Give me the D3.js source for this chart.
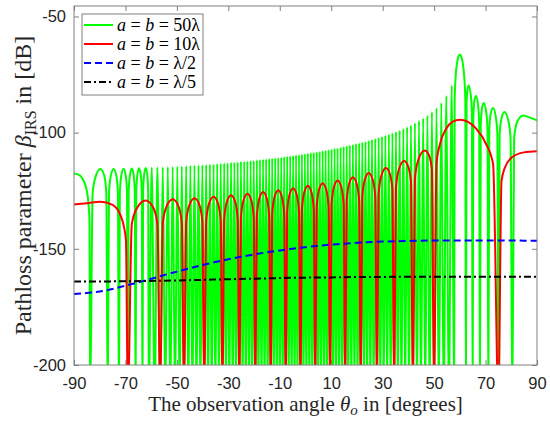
<!DOCTYPE html>
<html lang="en">
<head>
<meta charset="utf-8">
<script src="https://d3js.org/d3.v7.min.js"></script>
<style>
  body { margin: 0; background: #fff; }
</style>
</head>
<body>
<svg id="chart" width="550" height="422"></svg>

<script>
// ---------- values ----------
const xTicks = [-90, -70, -50, -30, -10, 10, 30, 50, 70, 90];
const yTicks = [-200, -150, -100, -50];
const deepNull = -215;   // nulls fall below the -200 floor and get clipped

// a = b = 50 lambda : null angles, lobe peaks, extra samples on the wide lobes
const nulls50 = [-83.72, -76.90, -72.55, -69.07, -66.07, -63.38, -60.93, -58.65, -56.51, -54.49,
  -52.56, -50.72, -48.94, -47.23, -45.56, -43.95, -42.38, -40.84, -39.35, -37.88,
  -36.44, -35.03, -33.64, -32.28, -30.93, -29.60, -28.29, -27.00, -25.72, -24.46,
  -23.20, -21.96, -20.73, -19.51, -18.30, -17.10, -15.90, -14.71, -13.53, -12.36,
  -11.19, -10.02, -8.86, -7.70, -6.55, -5.39, -4.24, -3.10, -1.95, -0.80,
  0.34, 1.49, 2.64, 3.78, 4.93, 6.08, 7.24, 8.40, 9.56, 10.72,
  11.89, 13.06, 14.24, 15.42, 16.62, 17.82, 19.03, 20.24, 21.47, 22.71,
  23.95, 25.21, 26.49, 27.78, 29.08, 30.40, 31.74, 33.10, 34.47, 35.87,
  37.30, 38.76, 40.24, 41.76, 43.32, 44.91, 46.55, 48.25, 50.00, 51.82,
  53.71, 55.69, 57.79, 62.36, 64.97, 67.81, 71.08, 75.00, 80.41];

const peaks50 = [[-79.74, -115.7], [-74.58, -115.6], [-70.73, -115.5], [-67.53, -115.4], [-64.69, -115.3],
  [-62.12, -115.2], [-59.79, -115.1], [-57.58, -115.0], [-55.50, -114.9], [-53.53, -114.8],
  [-51.64, -114.7], [-49.83, -114.6], [-48.09, -114.5], [-46.40, -114.4], [-44.76, -114.2],
  [-43.17, -114.1], [-41.61, -114.0], [-40.10, -113.9], [-38.62, -113.8], [-37.16, -113.7],
  [-35.74, -113.6], [-34.34, -113.4], [-32.96, -113.3], [-31.61, -113.2], [-30.27, -113.1],
  [-28.95, -112.9], [-27.65, -112.8], [-26.36, -112.7], [-25.09, -112.5], [-23.83, -112.4],
  [-22.58, -112.3], [-21.35, -112.1], [-20.12, -112.0], [-18.91, -111.8], [-17.70, -111.7],
  [-16.50, -111.5], [-15.31, -111.4], [-14.12, -111.2], [-12.95, -111.1], [-11.78, -110.9],
  [-10.61, -110.8], [-9.44, -110.6], [-8.28, -110.4], [-7.13, -110.2], [-5.97, -110.1],
  [-4.82, -109.9], [-3.67, -109.7], [-2.53, -109.5], [-1.38, -109.3], [-0.23, -109.1],
  [0.92, -108.9], [2.07, -108.7], [3.21, -108.5], [4.36, -108.3], [5.51, -108.1],
  [6.66, -107.8], [7.82, -107.6], [8.98, -107.4], [10.14, -107.1], [11.31, -106.8],
  [12.48, -106.6], [13.65, -106.3], [14.83, -106.0], [16.02, -105.7], [17.22, -105.4],
  [18.43, -105.1], [19.64, -104.8], [20.86, -104.5], [22.09, -104.1], [23.33, -103.8],
  [24.58, -103.4], [25.85, -103.0], [27.14, -102.6], [28.43, -102.1], [29.74, -101.7],
  [31.07, -101.2], [32.42, -100.7], [33.79, -100.2], [35.17, -99.6], [36.59, -99.0],
  [38.03, -98.3], [39.50, -97.6], [41.00, -96.8], [42.54, -95.9], [44.12, -94.9],
  [45.73, -93.8], [47.40, -92.6], [49.15, -91.1], [50.93, -89.4], [52.80, -87.2],
  [54.77, -84.2], [56.87, -79.7], [60.00, -66.4], [63.46, -79.7], [66.24, -84.2],
  [69.29, -87.2], [72.88, -89.4], [77.32, -91.1], [84.62, -92.6]];

const flanks50 = [[-90, -117.6], [-88.5, -118.0], [-87, -119.3], [-85, -125.1], [-84.3, -131.8], [-84.0, -137.5],
  [-82.75, -125.9], [-81.53, -118.7], [-78.19, -118.7], [-77.45, -125.9],
  [-76.40, -125.8], [-75.70, -118.6], [-73.53, -118.6], [-72.93, -125.8],
  [-72.17, -125.7], [-71.62, -118.5], [-69.88, -118.5], [-69.40, -125.7],
  [-68.75, -125.6], [-68.27, -118.4], [-66.80, -118.4], [-66.35, -125.6],
  [-65.78, -125.5], [-65.37, -118.3], [-64.03, -118.3], [-63.64, -125.5],
  [-63.13, -125.4], [-62.75, -118.2], [-61.51, -118.2], [-61.17, -125.4],
  [57.99, -85.6], [58.32, -76.9], [58.87, -70.3], [59.43, -67.3],
  [60.57, -67.3], [61.16, -70.3], [61.77, -76.9], [62.13, -85.6],
  [62.64, -87.4], [63.00, -81.3], [64.28, -84.2], [64.69, -92.1],
  [65.24, -93.0], [65.65, -86.4], [67.08, -88.1], [67.52, -95.8],
  [68.14, -96.4], [68.62, -89.6], [70.21, -90.8], [70.75, -98.4],
  [71.45, -98.8], [72.00, -91.9], [73.93, -92.9], [74.58, -100.3],
  [75.47, -100.7], [76.20, -93.8], [78.81, -94.6], [79.70, -102.0],
  [81.12, -102.3], [82.30, -95.3], [86.40, -93.2], [90, -94.7]];

// a = b = 10 lambda
const nulls10 = [-69.07, -56.51, -47.23, -39.35, -32.28, -25.72, -19.51, -13.53, -7.70, -1.95,
  3.78, 9.56, 15.42, 21.47, 27.78, 34.47, 41.76, 50.00, 75.00];

const peaks10 = [[-79.8, -129.7], [-62.12, -129.2], [-51.63, -128.7], [-43.16, -128.2], [-35.73, -127.6],
  [-28.95, -126.9], [-22.58, -126.3], [-16.50, -125.6], [-10.60, -124.8], [-4.82, -123.9],
  [0.92, -122.9], [6.66, -121.8], [12.47, -120.6], [18.42, -119.2], [24.58, -117.4],
  [31.27, -115.2], [38.32, -112.2], [46.31, -107.7], [60.00, -94.4]];

const flanks10 = [[-90, -130.9], [-85, -130.4], [-75, -131.1], [-72, -135.4], [-70.5, -141.0], [-69.8, -146.5],
  [-67.53, -139.4], [-65.37, -132.2], [-59.21, -132.2], [-57.56, -139.4],
  [-55.49, -138.9], [-54.00, -131.7], [-49.38, -131.7], [-48.07, -138.9],
  [-46.38, -138.4], [-45.15, -131.2], [-41.22, -131.2], [-40.09, -138.4],
  [-38.61, -137.8], [-37.52, -130.6], [-33.99, -130.6], [-32.96, -137.8],
  [-31.60, -137.1], [-30.60, -129.9], [-27.32, -129.9], [-26.36, -137.1],
  [-25.09, -136.5], [-24.14, -129.3], [-21.04, -129.3], [-20.12, -136.5],
  [-18.91, -135.8], [-18.00, -128.6], [-15.01, -128.6], [-14.12, -135.8],
  [-12.94, -135.0], [-12.06, -127.8], [-9.15, -127.8], [-8.28, -135.0],
  [-7.12, -134.1], [-6.26, -126.9], [-3.38, -126.9], [-2.52, -134.1],
  [-1.38, -133.1], [-0.52, -125.9], [2.35, -125.9], [3.21, -133.1],
  [4.36, -132.0], [5.22, -124.8], [8.11, -124.8], [8.98, -132.0],
  [10.14, -130.8], [11.01, -123.6], [13.95, -123.6], [14.83, -130.8],
  [16.02, -129.4], [16.92, -122.2], [19.94, -122.2], [20.86, -129.4],
  [22.09, -127.6], [23.02, -120.4], [26.17, -120.4], [27.13, -127.6],
  [28.42, -126.6], [29.41, -118.8], [32.75, -117.6], [33.78, -124.4],
  [35.17, -123.8], [36.23, -116.1], [39.87, -114.4], [41.00, -121.0],
  [42.53, -120.1], [43.71, -112.2], [47.82, -109.3], [49.11, -115.4],
  [50.90, -113.6], [52.28, -104.9], [54.69, -98.3], [57.23, -95.3],
  [63.00, -95.3], [66.35, -98.3], [70.21, -104.9], [72.94, -113.6],
  [76.2, -120.9], [77.4, -115.4], [80.4, -110.5], [84.9, -108.5], [90, -108.0]];

// small surfaces, sampled every 10 degrees
const smallAngles = [-90, -80, -70, -60, -50, -40, -30, -20, -10, 0, 10, 20, 30, 40, 50, 60, 70, 80, 90];
const betaHalf = [-169.4, -168.4, -165.9, -162.9, -159.8, -157.0, -154.5, -152.4, -150.7, -149.3,
  -148.2, -147.4, -146.9, -146.6, -146.4, -146.4, -146.4, -146.45, -146.5];
const betaFifth = [-164.1, -164.05, -163.95, -163.8, -163.6, -163.35, -163.1, -162.85, -162.6, -162.4,
  -162.3, -162.15, -162.1, -162.0, -162.0, -162.0, -162.0, -162.0, -162.0];

const legendSizes = ["50λ", "10λ", "λ/2", "λ/5"];
const seriesColors = ["#00ff00", "#ff0000", "#0000ff", "#000000"];
const seriesDash = [null, null, "7,4", "7,3,2,3"];

// ---------- chart ----------
const svg = d3.select("#chart");
const x = d3.scaleLinear().domain([-90, 90]).range([74, 537]);
const y = d3.scaleLinear().domain([-200, -45.5]).range([365, 6]);
const axisColor = "#808080";
const tickFont = "16.5px 'Liberation Sans', Arial, sans-serif";
const mathFont = "'Liberation Serif', 'Times New Roman', serif";

function lobes(nulls, peaks, flanks) {
  return nulls.map(a => [a, deepNull]).concat(peaks, flanks).sort((p, q) => p[0] - q[0]);
}

const series = [
  lobes(nulls50, peaks50, flanks50),
  lobes(nulls10, peaks10, flanks10),
  smallAngles.map((a, i) => [a, betaHalf[i]]),
  smallAngles.map((a, i) => [a, betaFifth[i]])
];

svg.append("defs").append("clipPath").attr("id", "plotClip")
  .append("rect")
  .attr("x", x(-90)).attr("y", y.range()[1])
  .attr("width", x(90) - x(-90)).attr("height", y(-200) - y.range()[1]);

function styleAxis(g) {
  g.select(".domain").remove();
  g.selectAll(".tick line").attr("stroke", axisColor);
  g.selectAll(".tick text").attr("fill", "#262626").style("font", tickFont);
}

svg.append("g").attr("transform", `translate(0,${y(-200)})`)
  .call(d3.axisBottom(x).tickValues(xTicks).tickSize(-5).tickPadding(12).tickFormat(d => String(d)))
  .call(styleAxis);
svg.append("g").attr("transform", `translate(0,${y.range()[1]})`)
  .call(d3.axisTop(x).tickValues(xTicks).tickSize(-5).tickFormat(""))
  .call(styleAxis);
svg.append("g").attr("transform", `translate(${x(-90)},0)`)
  .call(d3.axisLeft(y).tickValues(yTicks).tickSize(-5).tickPadding(8).tickFormat(d => String(d)))
  .call(styleAxis);
svg.append("g").attr("transform", `translate(${x(90)},0)`)
  .call(d3.axisRight(y).tickValues(yTicks).tickSize(-5).tickFormat(""))
  .call(styleAxis);

const line = d3.line()
  .x(d => x(d[0]))
  .y(d => y(d[1]))
  .curve(d3.curveMonotoneX);

svg.append("g").attr("clip-path", "url(#plotClip)")
  .selectAll("path")
  .data(series)
  .join("path")
  .attr("d", line)
  .attr("fill", "none")
  .attr("stroke", (d, i) => seriesColors[i])
  .attr("stroke-width", 2)
  .attr("stroke-dasharray", (d, i) => seriesDash[i]);

// axes box
svg.append("rect")
  .attr("x", x(-90)).attr("y", y.range()[1])
  .attr("width", x(90) - x(-90)).attr("height", y(-200) - y.range()[1])
  .attr("fill", "none").attr("stroke", axisColor);

// legend
const legend = svg.append("g").attr("transform", "translate(82,14)");
legend.append("rect")
  .attr("width", 121).attr("height", 81)
  .attr("fill", "#fff").attr("stroke", axisColor);

const rows = legend.selectAll("g.row")
  .data(legendSizes)
  .join("g")
  .attr("class", "row")
  .attr("transform", (d, i) => `translate(0,${11 + i * 19})`);

rows.append("line")
  .attr("x1", 2).attr("x2", 31)
  .attr("stroke", (d, i) => seriesColors[i])
  .attr("stroke-width", 2)
  .attr("stroke-dasharray", (d, i) => seriesDash[i]);

const rowText = rows.append("text")
  .attr("x", 35).attr("dy", "0.33em")
  .style("font-family", mathFont).style("font-size", "18px").attr("fill", "#000");
rowText.append("tspan").attr("font-style", "italic").text("a");
rowText.append("tspan").text(" = ");
rowText.append("tspan").attr("font-style", "italic").text("b");
rowText.append("tspan").text(d => " = " + d);

// axis labels
const xLabel = svg.append("text")
  .attr("x", (x(-90) + x(90)) / 2).attr("y", 411)
  .attr("text-anchor", "middle")
  .style("font-family", mathFont).style("font-size", "21px").attr("fill", "#262626");
xLabel.append("tspan").text("The observation angle ");
xLabel.append("tspan").attr("font-style", "italic").text("θ");
xLabel.append("tspan").attr("font-style", "italic").attr("font-size", "15px").attr("dy", 4).text("o");
xLabel.append("tspan").attr("dy", -4).text(" in [degrees]");

const yLabel = svg.append("text")
  .attr("transform", `translate(31,${(y(-200) + y.range()[1]) / 2}) rotate(-90)`)
  .attr("text-anchor", "middle")
  .style("font-family", mathFont).style("font-size", "24px").attr("fill", "#262626");
yLabel.append("tspan").text("Pathloss parameter ");
yLabel.append("tspan").attr("font-style", "italic").text("β");
yLabel.append("tspan").attr("font-size", "16px").attr("dy", 5).text("IRS");
yLabel.append("tspan").attr("dy", -5).text(" in [dB]");
</script>
</body>
</html>
